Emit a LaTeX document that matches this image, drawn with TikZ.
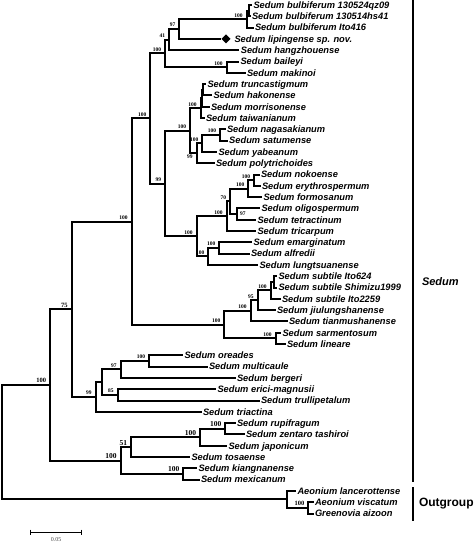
\documentclass[tikz,border=0pt]{standalone}
\usepackage{fontspec}
\setmainfont{Liberation Serif}
\setsansfont{Liberation Sans}
\usetikzlibrary{positioning,shapes.geometric}
\tikzset{
  leaf/.style={anchor=west,inner xsep=1.5pt,inner ysep=0pt,text height=6.7pt,text depth=0pt,font=\sffamily\bfseries\itshape\fontsize{9.3}{10}\selectfont},
  bs/.style={anchor=south east,inner sep=1pt,xshift=-2pt,font=\bfseries\fontsize{5.5}{6}\selectfont},
  bsM/.style={bs,font=\bfseries\fontsize{6.5}{7}\selectfont},
  bsL/.style={bs,font=\bfseries\fontsize{7.5}{8}\selectfont},
  gem/.style={diamond,fill=black,inner sep=0pt,minimum size=10pt},
  cladeLbl/.style={anchor=west,inner sep=0pt,font=\sffamily\bfseries\fontsize{12}{14}\selectfont}
}

\begin{document}
\begin{tikzpicture}[x=1pt,y=-1pt,line width=2pt,line cap=rect]
  \useasboundingbox (0,0) rectangle (474,542);

  % taxa
  \node[leaf] (qz09) at (251,5) {Sedum bulbiferum 130524qz09};
  \node[leaf] (hs41) at (249.5,16.3) {Sedum bulbiferum 130514hs41};
  \node[leaf] (ito416) at (252.5,27.6) {Sedum bulbiferum Ito416};
  \node[gem] (gem) at (226,38.9) {};
  \node[leaf,right=0pt of gem] (lip) {Sedum lipingense sp. nov.};
  \node[leaf] (hang) at (238.3,50.2) {Sedum hangzhouense};
  \node[leaf] (bail) at (238,61.5) {Sedum baileyi};
  \node[leaf] (maki) at (244.5,72.8) {Sedum makinoi};
  \node[leaf] (trun) at (205,84.1) {Sedum truncastigmum};
  \node[leaf] (hako) at (211,95.4) {Sedum hakonense};
  \node[leaf] (morr) at (208.5,106.7) {Sedum morrisonense};
  \node[leaf] (taiw) at (203.5,118) {Sedum taiwanianum};
  \node[leaf] (naga) at (224.5,129.3) {Sedum nagasakianum};
  \node[leaf] (satu) at (226.7,140.6) {Sedum satumense};
  \node[leaf] (yabe) at (216,151.9) {Sedum yabeanum};
  \node[leaf] (poly) at (213.5,163.2) {Sedum polytrichoides};
  \node[leaf] (noko) at (258.5,174.5) {Sedum nokoense};
  \node[leaf] (eryt) at (259.5,185.8) {Sedum erythrospermum};
  \node[leaf] (form) at (261,197.1) {Sedum formosanum};
  \node[leaf] (olig) at (259,208.4) {Sedum oligospermum};
  \node[leaf] (tetr) at (255,219.7) {Sedum tetractinum};
  \node[leaf] (tric) at (255,231) {Sedum tricarpum};
  \node[leaf] (emar) at (251,242.3) {Sedum emarginatum};
  \node[leaf] (alfr) at (248.5,253.6) {Sedum alfredii};
  \node[leaf] (lung) at (257,264.9) {Sedum lungtsuanense};
  \node[leaf] (s624) at (276,276.2) {Sedum subtile Ito624};
  \node[leaf] (s1999) at (276,287.5) {Sedum subtile Shimizu1999};
  \node[leaf] (s2259) at (279.5,298.8) {Sedum subtile Ito2259};
  \node[leaf] (jiul) at (274.5,310.1) {Sedum jiulungshanense};
  \node[leaf] (tian) at (286.5,321.4) {Sedum tianmushanense};
  \node[leaf] (sarm) at (280,332.7) {Sedum sarmentosum};
  \node[leaf] (line) at (284.5,344) {Sedum lineare};
  \node[leaf] (orea) at (182,355.3) {Sedum oreades};
  \node[leaf] (mult) at (206.5,366.6) {Sedum multicaule};
  \node[leaf] (berg) at (234.5,377.9) {Sedum bergeri};
  \node[leaf] (eric) at (215,389.2) {Sedum erici-magnusii};
  \node[leaf] (trul) at (258.5,400.5) {Sedum trullipetalum};
  \node[leaf] (tria) at (200.5,411.8) {Sedum triactina};
  \node[leaf] (rupi) at (234.5,423.1) {Sedum rupifragum};
  \node[leaf] (zent) at (243.5,434.4) {Sedum zentaro tashiroi};
  \node[leaf] (japo) at (226,445.7) {Sedum japonicum};
  \node[leaf] (tosa) at (189,457) {Sedum tosaense};
  \node[leaf] (kian) at (196,468.3) {Sedum kiangnanense};
  \node[leaf] (mexi) at (198.5,479.6) {Sedum mexicanum};
  \node[leaf] (lanc) at (295,490.9) {Aeonium lancerottense};
  \node[leaf] (visc) at (312.5,502.2) {Aeonium viscatum};
  \node[leaf] (gree) at (312.5,513.5) {Greenovia aizoon};

  % internal nodes
  \coordinate (root) at (2,442.15);
  \coordinate (nOG) at (287.3,499.4);
  \coordinate (nPP) at (308.3,507.85);
  \coordinate (nSR) at (50,384.9);
  \coordinate (n75) at (71.7,309.2);
  \coordinate (nA) at (131.7,221.5);
  \coordinate (nB) at (150.3,118.45);
  \coordinate (nC) at (165,53.4);
  \coordinate (n41) at (169,39.6);
  \coordinate (n97) at (179.3,29);
  \coordinate (nD) at (246.7,19.1);
  \coordinate (nSub) at (248.5,10.65);
  \coordinate (nE) at (226.7,67.15);
  \coordinate (nG) at (165,183.5);
  \coordinate (nH) at (190,130.7);
  \coordinate (nF) at (200.7,108.1);
  \coordinate (nL) at (202,98.2);
  \coordinate (nM) at (203.3,89.75);
  \coordinate (nI) at (196.7,153.3);
  \coordinate (nJ) at (202.3,143.4);
  \coordinate (nK) at (220,134.95);
  \coordinate (nN) at (196.7,236.3);
  \coordinate (nO) at (226.7,216.2);
  \coordinate (nP) at (230,201.3);
  \coordinate (nQ) at (248.3,188.6);
  \coordinate (nS) at (254,180.15);
  \coordinate (nR) at (236.7,214.05);
  \coordinate (nT) at (208.3,256.4);
  \coordinate (nU) at (219.3,247.95);
  \coordinate (nV) at (224.3,324.6);
  \coordinate (nW) at (250.7,310.8);
  \coordinate (nY) at (257.5,300.2);
  \coordinate (nZ) at (270.5,290.3);
  \coordinate (nSt) at (273.5,281.85);
  \coordinate (nX) at (275.5,338.35);
  \coordinate (nAA) at (95.7,396.95);
  \coordinate (nBB) at (101.7,382.1);
  \coordinate (nCC) at (120.7,369.4);
  \coordinate (nEE) at (149,360.95);
  \coordinate (nDD) at (117.7,394.85);
  \coordinate (nII) at (120.7,460.55);
  \coordinate (nJJ) at (131,447.1);
  \coordinate (nLL) at (200,437.2);
  \coordinate (nMM) at (225.3,428.75);
  \coordinate (nKK) at (183.3,473.95);

  % root and outgroup
  \draw (root) |- (nSR) node[bsM] (bSR) {100};
  \draw (root) |- (nOG);
  \draw (nOG) |- (lanc.west);
  \draw (nOG) |- (nPP) node[bsM] (bPP) {100};
  \draw (nPP) |- (visc.west);
  \draw (nPP) |- (gree.west);

  % upper Sedum
  \draw (nSR) |- (n75) node[bsM] (b75) {75};
  \draw (n75) |- (nA) node[bs] (bA) {100};
  \draw (nA) |- (nB) node[bs] (bB) {100};
  \draw (nB) |- (nC) node[bs] (bC) {100};
  \draw (nC) |- (n41) node[bs] (b41) {41};
  \draw (nC) |- (nE) node[bs] (bE) {100};
  \draw (n41) |- (n97) node[bs] (b97) {97};
  \draw (n41) |- (hang.west);
  \draw (n97) |- (nD) node[bs] (bD) {100};
  \draw (n97) |- (gem.west);
  \draw (nD) |- (nSub);
  \draw (nD) |- (ito416.west);
  \draw (nSub) |- (qz09.west);
  \draw (nSub) |- (hs41.west);
  \draw (nE) |- (bail.west);
  \draw (nE) |- (maki.west);
  \draw (nB) |- (nG) node[bs] (bG) {99};
  \draw (nG) |- (nH) node[bs] (bH) {100};
  \draw (nH) |- (nF) node[bs] (bF) {100};
  \draw (nF) |- (nL);
  \draw (nF) |- (taiw.west);
  \draw (nL) |- (nM);
  \draw (nL) |- (morr.west);
  \draw (nM) |- (trun.west);
  \draw (nM) |- (hako.west);
  \draw (nH) |- (nI) node[bs,anchor=north east] (bI) {99};
  \draw (nI) |- (nJ) node[bs] (bJ) {100};
  \draw (nI) |- (poly.west);
  \draw (nJ) |- (nK) node[bs] (bK) {100};
  \draw (nJ) |- (yabe.west);
  \draw (nK) |- (naga.west);
  \draw (nK) |- (satu.west);
  \draw (nG) |- (nN) node[bs] (bN) {100};
  \draw (nN) |- (nO) node[bs] (bO) {100};
  \draw (nO) |- (nP) node[bs] (bP) {70};
  \draw (nO) |- (tric.west);
  \draw (nP) |- (nQ) node[bs] (bQ) {100};
  \draw (nQ) |- (nS) node[bs] (bS) {100};
  \draw (nQ) |- (form.west);
  \draw (nS) |- (noko.west);
  \draw (nS) |- (eryt.west);
  \draw (nP) |- (nR) node[bs,anchor=west,xshift=3.5pt] (bR) {97};
  \draw (nR) |- (olig.west);
  \draw (nR) |- (tetr.west);
  \draw (nN) |- (nT) node[bs] (bT) {100};
  \draw (nT) |- (nU) node[bs] (bU) {100};
  \draw (nT) |- (lung.west);
  \draw (nU) |- (emar.west);
  \draw (nU) |- (alfr.west);
  \draw (nA) |- (nV) node[bs] (bV) {100};
  \draw (nV) |- (nW) node[bs] (bW) {100};
  \draw (nW) |- (nY) node[bs] (bY) {95};
  \draw (nW) |- (tian.west);
  \draw (nY) |- (nZ) node[bs] (bZ) {100};
  \draw (nY) |- (jiul.west);
  \draw (nZ) |- (nSt);
  \draw (nZ) |- (s2259.west);
  \draw (nSt) |- (s624.west);
  \draw (nSt) |- (s1999.west);
  \draw (nV) |- (nX) node[bs] (bX) {100};
  \draw (nX) |- (sarm.west);
  \draw (nX) |- (line.west);

  % lower Sedum
  \draw (n75) |- (nAA) node[bs] (bAA) {99};
  \draw (nAA) |- (nBB);
  \draw (nAA) |- (tria.west);
  \draw (nBB) |- (nCC) node[bs] (bCC) {97};
  \draw (nCC) |- (nEE) node[bs] (bEE) {100};
  \draw (nCC) |- (berg.west);
  \draw (nEE) |- (orea.west);
  \draw (nEE) |- (mult.west);
  \draw (nBB) |- (nDD) node[bs] (bDD) {85};
  \draw (nDD) |- (eric.west);
  \draw (nDD) |- (trul.west);
  \draw (nSR) |- (nII) node[bsL] (bII) {100};
  \draw (nII) |- (nJJ) node[bsL] (bJJ) {51};
  \draw (nJJ) |- (nLL) node[bsL] (bLL) {100};
  \draw (nJJ) |- (tosa.west);
  \draw (nLL) |- (nMM) node[bsL] (bMM) {100};
  \draw (nLL) |- (japo.west);
  \draw (nMM) |- (rupi.west);
  \draw (nMM) |- (zent.west);
  \draw (nII) |- (nKK) node[bsL] (bKK) {100};
  \draw (nKK) |- (kian.west);
  \draw (nKK) |- (mexi.west);

  % clade bars
  \coordinate (barTop) at (412.5,0);
  \coordinate (barEnd) at (412.5,482);
  \coordinate (ogTop) at (412.5,487);
  \coordinate (ogEnd) at (412.5,521);
  \draw[line width=2pt,line cap=butt] (barTop) -- (barEnd);
  \draw[line width=2pt,line cap=butt] (ogTop) -- (ogEnd);
  \node[cladeLbl,font=\sffamily\bfseries\itshape\fontsize{11}{13}\selectfont] (sedum) at (421,282) {Sedum};
  \node[cladeLbl] (outg) at (418,504) {Outgroup};

  % scale bar
  \coordinate (sbL) at (30.7,532);
  \coordinate (sbR) at (81,532);
  \draw[line width=1pt,line cap=butt] (sbL) -- (sbR);
  \draw[line width=1pt,line cap=butt] ([yshift=2.5pt]sbL) -- ([yshift=-2.5pt]sbL);
  \draw[line width=1pt,line cap=butt] ([yshift=2.5pt]sbR) -- ([yshift=-2.5pt]sbR);
  \node[font=\fontsize{6}{7}\selectfont,text=black!70,inner sep=0pt] (sbT) at (56,539.5) {0.05};
\end{tikzpicture}
\end{document}
